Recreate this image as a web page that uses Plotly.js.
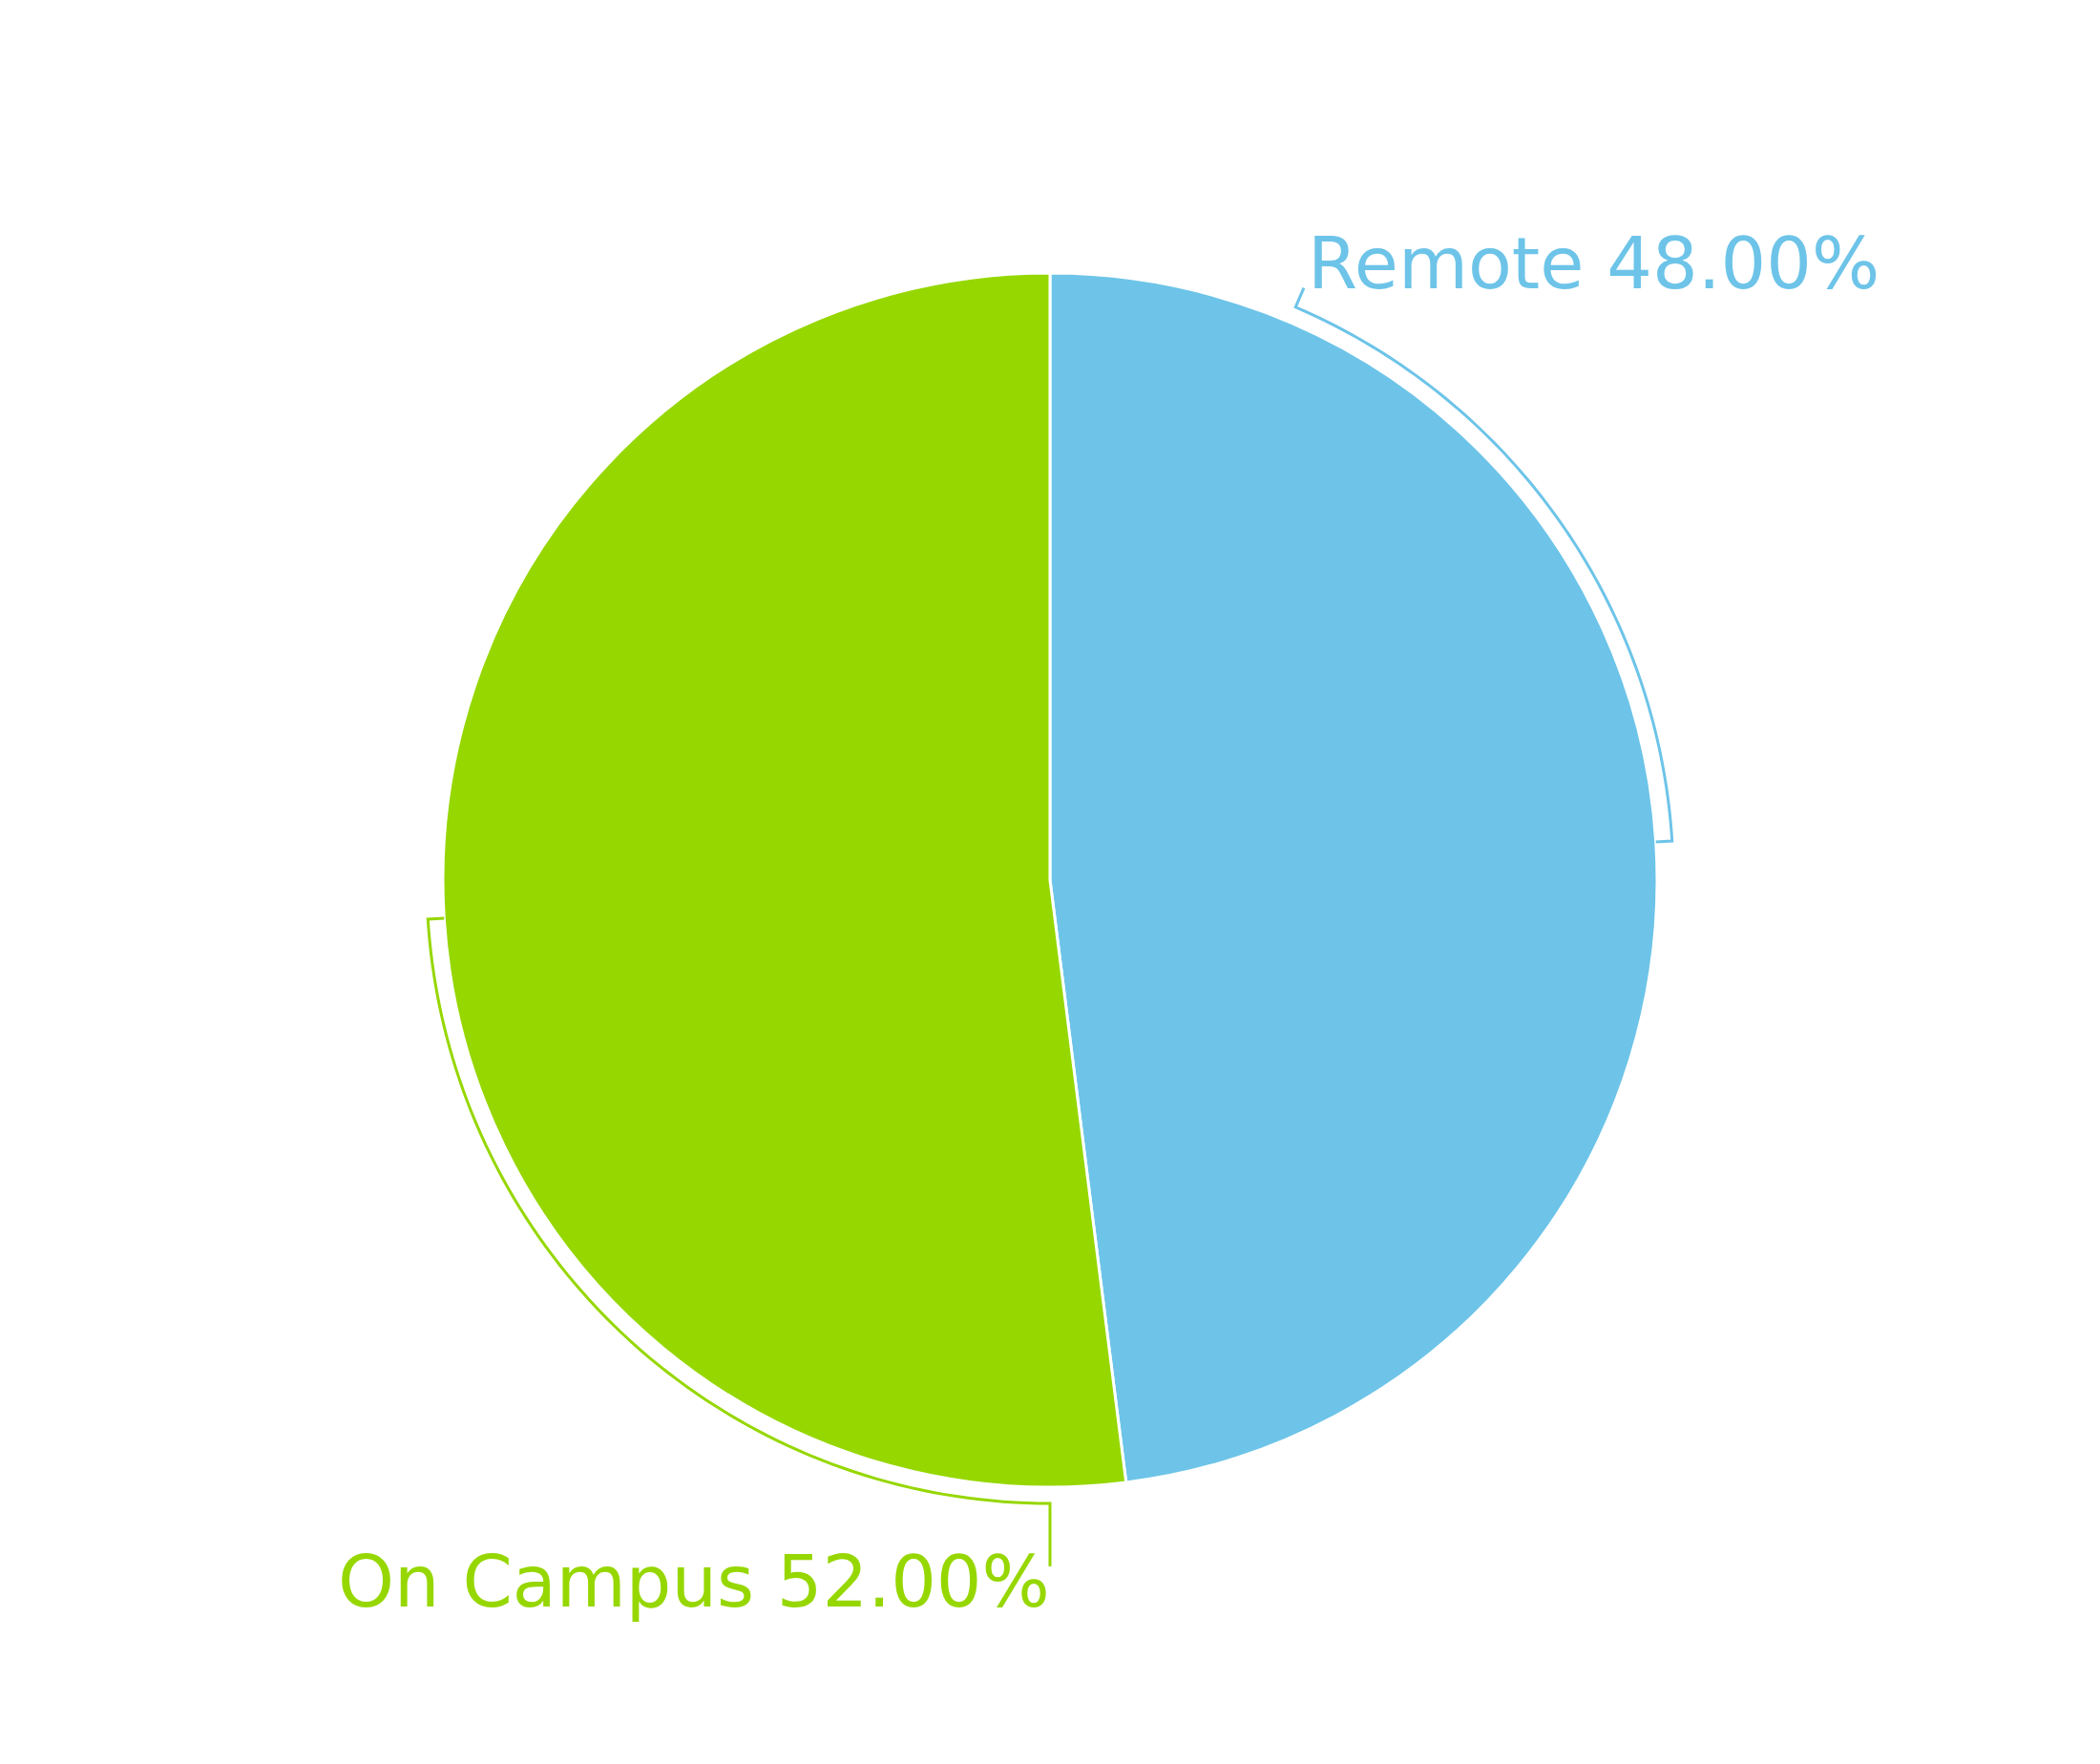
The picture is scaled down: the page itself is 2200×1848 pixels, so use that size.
<!DOCTYPE html>
<html>
<head>
<meta charset="utf-8">
<script src="https://cdn.plot.ly/plotly-3.0.1.min.js"></script>
<style>
  html, body { margin: 0; padding: 0; background: #fff; }
  #chart { width: 2200px; height: 1848px; }
</style>
</head>
<body>
<div id="chart"></div>
<script>
// Data
const labels = ['Remote', 'On Campus'];
const values = [48, 52];
const colors = ['#6dc4e8', '#96d700'];

// Label placement (angle clockwise from 12 o'clock, leader end radius in px)
const labelAngles = [23.2, 180];
const leaderEnds = [675, 719];

const W = 2200, H = 1848;
const margin = { l: 464, r: 464, t: 286, b: 290 };
const plotW = W - margin.l - margin.r;
const plotH = H - margin.t - margin.b;
const cx = margin.l + plotW / 2;
const cy = margin.t + plotH / 2;
const R = Math.min(plotW, plotH) / 2;
const gap = 17;

// pixel -> paper
const px = x => (x - margin.l) / plotW;
const py = y => (margin.t + plotH - y) / plotH;
const pt = (deg, r) => {
  const a = deg * Math.PI / 180;
  return [cx + r * Math.sin(a), cy - r * Math.cos(a)];
};

const total = values.reduce((a, b) => a + b, 0);
let cum = 0;
const shapes = [];
const annotations = [];

values.forEach((v, i) => {
  const mid = (cum + v / 2) / total * 360;
  cum += v;
  // leader: short radial tick, arc around the pie, then out to the label
  const pts = [pt(mid, R), pt(mid, R + gap)];
  const end = labelAngles[i];
  const steps = 80;
  for (let s = 1; s <= steps; s++) {
    pts.push(pt(mid + (end - mid) * s / steps, R + gap));
  }
  pts.push(pt(end, leaderEnds[i]));
  const d = pts.map((p, k) => (k ? 'L' : 'M') + px(p[0]).toFixed(5) + ',' + py(p[1]).toFixed(5)).join(' ');
  shapes.push({ type: 'path', xref: 'paper', yref: 'paper', path: d, line: { color: colors[i], width: 3 } });

  const tip = pt(end, leaderEnds[i]);
  const pct = (v / total * 100).toFixed(2) + '%';
  const right = Math.sin(end * Math.PI / 180) > 0.01;
  annotations.push({
    xref: 'paper', yref: 'paper',
    x: px(tip[0] + 2),
    y: py(right ? tip[1] - 26 : tip[1] + 16),
    xanchor: right ? 'left' : 'right',
    yanchor: 'middle',
    text: labels[i] + ' ' + pct,
    showarrow: false,
    font: { family: 'DejaVu Sans, sans-serif', size: 75, color: colors[i] }
  });
});

const trace = {
  type: 'pie',
  labels, values,
  sort: false,
  direction: 'clockwise',
  rotation: 0,
  textinfo: 'none',
  hoverinfo: 'label+percent',
  marker: { colors, line: { color: '#ffffff', width: 3 } },
  domain: { x: [0, 1], y: [0, 1] }
};

Plotly.newPlot('chart', [trace], {
  width: W, height: H,
  margin,
  showlegend: false,
  paper_bgcolor: '#ffffff',
  plot_bgcolor: '#ffffff',
  shapes, annotations
}, { displayModeBar: false, staticPlot: true });
</script>
</body>
</html>
